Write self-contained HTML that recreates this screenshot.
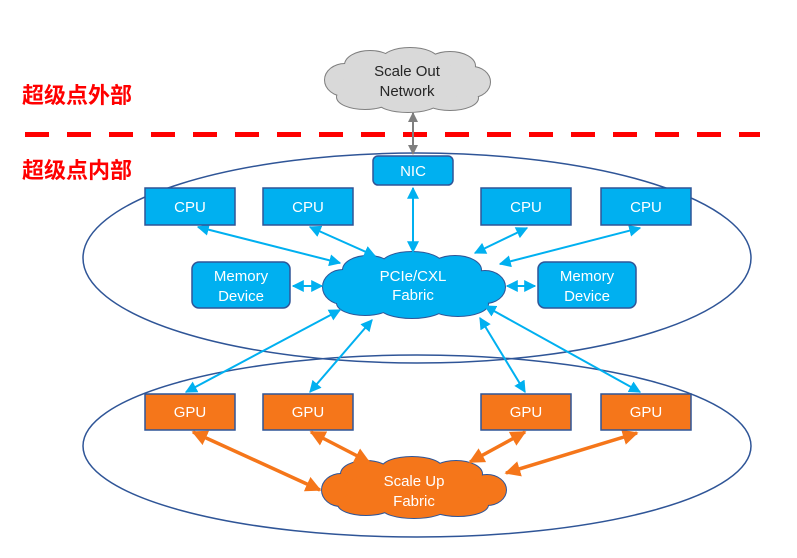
<!DOCTYPE html>
<html><head><meta charset="utf-8"><style>
html,body{margin:0;padding:0;background:#fff;}
svg{display:block;}
</style></head><body>
<svg width="797" height="558" viewBox="0 0 797 558" xmlns="http://www.w3.org/2000/svg">
<defs>
<marker id="ab" viewBox="0 0 10 10" refX="9" refY="5" markerWidth="6" markerHeight="6" orient="auto-start-reverse"><path d="M0,0 L10,5 L0,10 z" fill="#00b0f0"/></marker>
<marker id="ao" viewBox="0 0 10 10" refX="9" refY="5" markerWidth="4.5" markerHeight="4.5" orient="auto-start-reverse"><path d="M0,0 L10,5 L0,10 z" fill="#f5761a"/></marker>
<marker id="ag" viewBox="0 0 10 10" refX="9" refY="5" markerWidth="5" markerHeight="5" orient="auto-start-reverse"><path d="M0,0 L10,5 L0,10 z" fill="#7f7f7f"/></marker>
</defs>
<g font-family="'Liberation Sans','Noto Sans CJK SC',sans-serif">
<text x="22" y="103" font-size="22" font-weight="bold" fill="#ff0000">超级点外部</text>
<text x="22" y="178" font-size="22" font-weight="bold" fill="#ff0000">超级点内部</text>
</g>
<line x1="25" y1="134.5" x2="760" y2="134.5" stroke="#ff0000" stroke-width="5" stroke-dasharray="24 18"/>
<ellipse cx="417" cy="258" rx="334" ry="105" fill="none" stroke="#2f5597" stroke-width="1.5"/>
<ellipse cx="417" cy="446" rx="334" ry="91" fill="none" stroke="#2f5597" stroke-width="1.5"/>

<g>
<g fill="#d9d9d9" stroke="#7f7f7f" stroke-width="2">
<ellipse cx="345" cy="80" rx="20" ry="16"/><ellipse cx="370" cy="65" rx="25" ry="14"/><ellipse cx="410" cy="60" rx="28" ry="12"/><ellipse cx="450" cy="66" rx="25" ry="14"/><ellipse cx="472" cy="82" rx="18" ry="15"/><ellipse cx="450" cy="98" rx="28" ry="12"/><ellipse cx="408" cy="102" rx="30" ry="10"/><ellipse cx="365" cy="97" rx="28" ry="12"/>
</g>
<g fill="#d9d9d9">
<ellipse cx="345" cy="80" rx="20" ry="16"/><ellipse cx="370" cy="65" rx="25" ry="14"/><ellipse cx="410" cy="60" rx="28" ry="12"/><ellipse cx="450" cy="66" rx="25" ry="14"/><ellipse cx="472" cy="82" rx="18" ry="15"/><ellipse cx="450" cy="98" rx="28" ry="12"/><ellipse cx="408" cy="102" rx="30" ry="10"/><ellipse cx="365" cy="97" rx="28" ry="12"/><ellipse cx="408" cy="82" rx="65" ry="22"/>
</g>
</g>
<g>
<g fill="#00b0f0" stroke="#2f5597" stroke-width="2">
<ellipse cx="343" cy="287" rx="20" ry="17"/><ellipse cx="368" cy="270" rx="25" ry="14"/><ellipse cx="412" cy="264" rx="30" ry="12"/><ellipse cx="455" cy="270" rx="26" ry="14"/><ellipse cx="485" cy="287" rx="20" ry="16"/><ellipse cx="458" cy="304" rx="30" ry="12"/><ellipse cx="412" cy="307" rx="32" ry="11"/><ellipse cx="365" cy="303" rx="28" ry="12"/>
</g>
<g fill="#00b0f0">
<ellipse cx="343" cy="287" rx="20" ry="17"/><ellipse cx="368" cy="270" rx="25" ry="14"/><ellipse cx="412" cy="264" rx="30" ry="12"/><ellipse cx="455" cy="270" rx="26" ry="14"/><ellipse cx="485" cy="287" rx="20" ry="16"/><ellipse cx="458" cy="304" rx="30" ry="12"/><ellipse cx="412" cy="307" rx="32" ry="11"/><ellipse cx="365" cy="303" rx="28" ry="12"/><ellipse cx="414" cy="287" rx="70" ry="22"/>
</g>
</g>
<g>
<g fill="#f5761a" stroke="#2f5597" stroke-width="2">
<ellipse cx="341" cy="490" rx="19" ry="16"/><ellipse cx="366" cy="474" rx="25" ry="13"/><ellipse cx="412" cy="468" rx="30" ry="11"/><ellipse cx="456" cy="474" rx="26" ry="13"/><ellipse cx="487" cy="490" rx="19" ry="15"/><ellipse cx="458" cy="505" rx="30" ry="11"/><ellipse cx="414" cy="508" rx="32" ry="10"/><ellipse cx="366" cy="504" rx="28" ry="11"/>
</g>
<g fill="#f5761a">
<ellipse cx="341" cy="490" rx="19" ry="16"/><ellipse cx="366" cy="474" rx="25" ry="13"/><ellipse cx="412" cy="468" rx="30" ry="11"/><ellipse cx="456" cy="474" rx="26" ry="13"/><ellipse cx="487" cy="490" rx="19" ry="15"/><ellipse cx="458" cy="505" rx="30" ry="11"/><ellipse cx="414" cy="508" rx="32" ry="10"/><ellipse cx="366" cy="504" rx="28" ry="11"/><ellipse cx="414" cy="489" rx="70" ry="20"/>
</g>
</g>

<g stroke="#00b0f0" stroke-width="2" marker-start="url(#ab)" marker-end="url(#ab)">
<line x1="413" y1="188" x2="413" y2="252"/>
<line x1="198" y1="227" x2="340" y2="263"/>
<line x1="310" y1="227" x2="375" y2="256"/>
<line x1="527" y1="228" x2="475" y2="253"/>
<line x1="640" y1="228" x2="500" y2="264"/>
<line x1="293" y1="286" x2="322" y2="286"/>
<line x1="507" y1="286" x2="535" y2="286"/>
<line x1="186" y1="392" x2="340" y2="310"/>
<line x1="310" y1="392" x2="372" y2="320"/>
<line x1="525" y1="392" x2="480" y2="318"/>
<line x1="640" y1="392" x2="485" y2="306"/>
</g>
<g stroke="#f5761a" stroke-width="3.5" marker-start="url(#ao)" marker-end="url(#ao)">
<line x1="193" y1="432" x2="320" y2="490"/>
<line x1="311" y1="432" x2="369" y2="462"/>
<line x1="525" y1="432" x2="470" y2="462"/>
<line x1="637" y1="433" x2="506" y2="473"/>
</g>
<line x1="413" y1="113" x2="413" y2="154" stroke="#7f7f7f" stroke-width="2" marker-start="url(#ag)" marker-end="url(#ag)"/>

<g stroke="#2f5597" stroke-width="1.5" fill="#00b0f0">
<rect x="373" y="156" width="80" height="29" rx="5"/>
<rect x="145" y="188" width="90" height="37"/>
<rect x="263" y="188" width="90" height="37"/>
<rect x="481" y="188" width="90" height="37"/>
<rect x="601" y="188" width="90" height="37"/>
<rect x="192" y="262" width="98" height="46" rx="7"/>
<rect x="538" y="262" width="98" height="46" rx="7"/>
</g>
<g stroke="#2f5597" stroke-width="1.5" fill="#f5761a">
<rect x="145" y="394" width="90" height="36"/>
<rect x="263" y="394" width="90" height="36"/>
<rect x="481" y="394" width="90" height="36"/>
<rect x="601" y="394" width="90" height="36"/>
</g>
<g font-family="'Liberation Sans',sans-serif" font-size="15" fill="#fff" text-anchor="middle">
<text x="413" y="176">NIC</text>
<text x="190" y="212">CPU</text><text x="308" y="212">CPU</text><text x="526" y="212">CPU</text><text x="646" y="212">CPU</text>
<text x="241" y="281">Memory</text><text x="241" y="301">Device</text>
<text x="587" y="281">Memory</text><text x="587" y="301">Device</text>
<text x="413" y="281">PCIe/CXL</text><text x="413" y="300">Fabric</text>
<text x="190" y="417">GPU</text><text x="308" y="417">GPU</text><text x="526" y="417">GPU</text><text x="646" y="417">GPU</text>
<text x="414" y="486">Scale Up</text><text x="414" y="506">Fabric</text>
<text x="407" y="76" fill="#262626">Scale Out</text><text x="407" y="96" fill="#262626">Network</text>
</g>
</svg>
</body></html>
